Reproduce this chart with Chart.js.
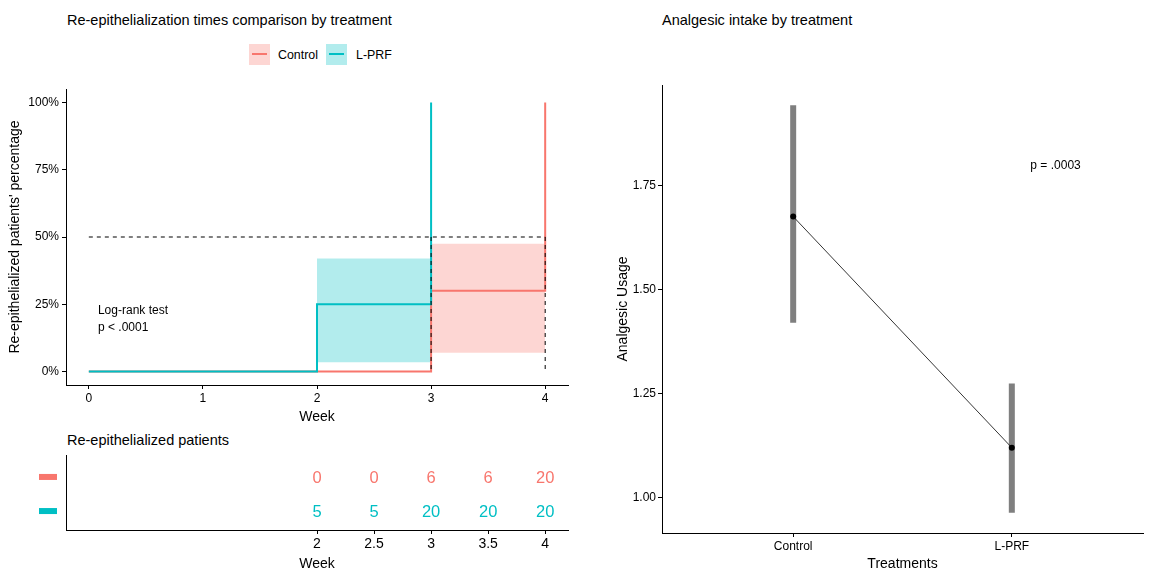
<!DOCTYPE html>
<html>
<head>
<meta charset="utf-8">
<script src="https://cdn.jsdelivr.net/npm/chart.js@4.4.1/dist/chart.umd.min.js"></script>
<style>
  html, body { margin: 0; padding: 0; background: #fff; }
  body { width: 1152px; height: 575px; position: relative; overflow: hidden; font-family: "Liberation Sans", Arial, sans-serif; color: #000; }
  canvas { position: absolute; }
  .txt { position: absolute; white-space: nowrap; line-height: 1; }
  .key { position: absolute; width: 21px; height: 21px; }
  .key span { position: absolute; left: 3px; right: 3px; top: 9px; height: 2px; }
</style>
</head>
<body>
<div class="txt" style="left:67px; top:13px; font-size:14.5px;">Re-epithelialization times comparison by treatment</div>
<div class="key" style="left:249px; top:44px; background:#FDD6D3;"><span style="background:#F8766D;"></span></div>
<div class="txt" style="left:278px; top:49px; font-size:12.4px;">Control</div>
<div class="key" style="left:326px; top:44px; background:#B2ECED;"><span style="background:#00BFC4;"></span></div>
<div class="txt" style="left:356px; top:49px; font-size:12.4px;">L-PRF</div>
<div class="txt" style="left:67px; top:433px; font-size:14.5px;">Re-epithelialized patients</div>
<div class="txt" style="left:662px; top:13px; font-size:14.5px;">Analgesic intake by treatment</div>

<canvas id="survChart" style="left:0; top:0;" width="576" height="430"></canvas>
<canvas id="riskChart" style="left:0; top:430px;" width="576" height="145"></canvas>
<canvas id="analgesicChart" style="left:576px; top:0;" width="576" height="575"></canvas>

<script>
const RED = "#F8766D";
const TEAL = "#00BFC4";
const FONT = "'Liberation Sans', Arial, sans-serif";

// re-epithelialization curves (percent healed)
const controlWeeks = [0, 3, 4];
const controlPct = [0, 30, 100];
const lprfWeeks = [0, 2, 3];
const lprfPct = [0, 25, 100];

// confidence bands
const controlBandWeeks = [3, 4];
const controlLow = [7, 7];
const controlHigh = [47.5, 47.5];
const lprfBandWeeks = [2, 3];
const lprfLow = [3.5, 3.5];
const lprfHigh = [42, 42];

// median line
const medianPct = 50;
const medianWeeks = [3, 4];

const weekTicks = [0, 1, 2, 3, 4];
const pctTicks = [0, 25, 50, 75, 100];

// risk table
const tableWeeks = [2, 2.5, 3, 3.5, 4];
const controlCounts = [0, 0, 6, 6, 20];
const lprfCounts = [5, 5, 20, 20, 20];

// analgesic intake
const treatments = ["Control", "L-PRF"];
const analgesicMean = [1.675, 1.12];
const analgesicLow = [1.42, 0.964];
const analgesicHigh = [1.942, 1.274];
const analgesicTicks = [1.0, 1.25, 1.5, 1.75];

function toPoints(xs, ys) {
  return xs.map((x, i) => ({ x, y: ys[i] }));
}

function fixedTicks(values) {
  return scale => { scale.ticks = values.map(value => ({ value })); };
}

function axisOptions(extra) {
  return Object.assign({
    grid: { display: true, drawOnChartArea: false, drawTicks: true, tickLength: 4, color: "#000", lineWidth: 1 },
    border: { display: true, color: "#000", width: 1 },
    ticks: { color: "#000", font: { family: FONT, size: 12 }, padding: 2, maxRotation: 0, autoSkip: false }
  }, extra);
}

const baseOptions = {
  responsive: false,
  animation: false,
  events: [],
  plugins: { legend: { display: false }, tooltip: { enabled: false }, title: { display: false } }
};

// --- top-left: step curves ---
const dashed = { borderColor: "#000", borderWidth: 1, borderDash: [4, 4], pointRadius: 0, fill: false, order: 0 };
const survDatasets = [
  Object.assign({ data: toPoints([0, medianWeeks[medianWeeks.length - 1]], [medianPct, medianPct]) }, dashed),
  ...medianWeeks.map(w => Object.assign({ data: toPoints([w, w], [medianPct, 0]) }, dashed)),
  { data: toPoints(lprfWeeks, lprfPct), borderColor: TEAL, borderWidth: 2, stepped: "before", pointRadius: 0, fill: false, order: 1 },
  { data: toPoints(controlWeeks, controlPct), borderColor: RED, borderWidth: 2, stepped: "before", pointRadius: 0, fill: false, order: 2 },
  { data: toPoints(lprfBandWeeks, lprfHigh), borderWidth: 0, pointRadius: 0, backgroundColor: "rgba(0,191,196,0.3)", fill: "+1", order: 3 },
  { data: toPoints(lprfBandWeeks, lprfLow), borderWidth: 0, pointRadius: 0, fill: false, order: 3 },
  { data: toPoints(controlBandWeeks, controlHigh), borderWidth: 0, pointRadius: 0, backgroundColor: "rgba(248,118,109,0.3)", fill: "+1", order: 4 },
  { data: toPoints(controlBandWeeks, controlLow), borderWidth: 0, pointRadius: 0, fill: false, order: 4 }
];

const logRankLabel = {
  id: "logRankLabel",
  afterDatasetsDraw(chart) {
    const { ctx, scales } = chart;
    ctx.save();
    ctx.fillStyle = "#000";
    ctx.font = "12px " + FONT;
    ctx.textBaseline = "middle";
    const x = scales.x.getPixelForValue(0.08);
    ctx.fillText("Log-rank test", x, scales.y.getPixelForValue(22.8));
    ctx.fillText("p < .0001", x, scales.y.getPixelForValue(16.3));
    ctx.restore();
  }
};

new Chart(document.getElementById("survChart"), {
  type: "line",
  data: { datasets: survDatasets },
  options: Object.assign({}, baseOptions, {
    layout: { padding: { left: 0, right: 8, top: 89, bottom: 0 } },
    scales: {
      x: axisOptions({
        type: "linear", min: -0.2, max: 4.2,
        afterBuildTicks: fixedTicks(weekTicks),
        afterFit: s => { s.height = 45; },
        title: { display: true, text: "Week", color: "#000", font: { family: FONT, size: 14 }, padding: { top: 0, bottom: 4 } }
      }),
      y: axisOptions({
        type: "linear", min: -5, max: 105,
        afterBuildTicks: fixedTicks(pctTicks),
        afterFit: s => { s.width = 66; },
        ticks: { color: "#000", font: { family: FONT, size: 12 }, padding: 3, callback: v => v + "%" },
        title: { display: true, text: "Re-epithelialized patients' percentage", color: "#000", font: { family: FONT, size: 14 }, padding: { top: 7, bottom: 0 } }
      })
    }
  }),
  plugins: [logRankLabel]
});

// --- bottom-left: risk table ---
const riskRows = [
  { pos: 2, color: RED, counts: controlCounts },
  { pos: 1, color: TEAL, counts: lprfCounts }
];

const riskText = {
  id: "riskText",
  afterDatasetsDraw(chart) {
    const { ctx, scales } = chart;
    ctx.save();
    ctx.font = "16.5px " + FONT;
    ctx.textAlign = "center";
    ctx.textBaseline = "middle";
    riskRows.forEach(row => {
      const y = scales.y.getPixelForValue(row.pos) + 1.5;
      ctx.fillStyle = row.color;
      ctx.fillRect(39, y - 3, 18, 6);
      tableWeeks.forEach((w, i) => {
        ctx.fillText(String(row.counts[i]), scales.x.getPixelForValue(w), y + 1);
      });
    });
    ctx.restore();
  }
};

new Chart(document.getElementById("riskChart"), {
  type: "scatter",
  data: { datasets: [{ data: [] }] },
  options: Object.assign({}, baseOptions, {
    layout: { padding: { left: 0, right: 8, top: 25, bottom: 0 } },
    scales: {
      x: axisOptions({
        type: "linear", min: -0.2, max: 4.2,
        afterBuildTicks: fixedTicks(tableWeeks),
        afterFit: s => { s.height = 45; },
        ticks: { color: "#000", font: { family: FONT, size: 14 }, padding: 2, maxRotation: 0, autoSkip: false, callback: v => String(v) },
        title: { display: true, text: "Week", color: "#000", font: { family: FONT, size: 14 }, padding: { top: 0, bottom: 2 } }
      }),
      y: axisOptions({
        type: "linear", min: 0.4, max: 2.6,
        afterFit: s => { s.width = 66; },
        grid: { display: false },
        ticks: { display: false }
      })
    }
  }),
  plugins: [riskText]
});

// --- right: analgesic intake ---
const spanAll = Math.max(...analgesicHigh) - Math.min(...analgesicLow);
const analgesicDatasets = [
  { data: toPoints([1, 2], analgesicMean), borderColor: "#000", borderWidth: 0.8, pointRadius: 3, pointBackgroundColor: "#000", pointBorderWidth: 0, fill: false, order: 0 },
  ...treatments.map((t, i) => ({
    data: toPoints([i + 1, i + 1], [analgesicLow[i], analgesicHigh[i]]),
    borderColor: "#7F7F7F", borderWidth: 6, borderCapStyle: "butt", pointRadius: 0, fill: false, order: 1
  }))
];

const pLabel = {
  id: "pLabel",
  afterDatasetsDraw(chart) {
    const { ctx, scales } = chart;
    ctx.save();
    ctx.fillStyle = "#000";
    ctx.font = "12px " + FONT;
    ctx.textAlign = "center";
    ctx.textBaseline = "middle";
    ctx.fillText("p = .0003", scales.x.getPixelForValue(2.2), scales.y.getPixelForValue(1.796));
    ctx.restore();
  }
};

new Chart(document.getElementById("analgesicChart"), {
  type: "line",
  data: { datasets: analgesicDatasets },
  options: Object.assign({}, baseOptions, {
    layout: { padding: { left: 0, right: 9, top: 85, bottom: 0 } },
    scales: {
      x: axisOptions({
        type: "linear", min: 0.4, max: 2.6,
        afterBuildTicks: fixedTicks([1, 2]),
        afterFit: s => { s.height = 42; },
        ticks: { color: "#000", font: { family: FONT, size: 12 }, padding: 2, maxRotation: 0, autoSkip: false, callback: v => treatments[v - 1] },
        title: { display: true, text: "Treatments", color: "#000", font: { family: FONT, size: 14 }, padding: { top: 0, bottom: 2 } }
      }),
      y: axisOptions({
        type: "linear",
        min: Math.min(...analgesicLow) - 0.05 * spanAll,
        max: Math.max(...analgesicHigh) + 0.05 * spanAll,
        afterBuildTicks: fixedTicks(analgesicTicks),
        afterFit: s => { s.width = 86; },
        ticks: { color: "#000", font: { family: FONT, size: 12 }, padding: 2, callback: v => v.toFixed(2) },
        title: { display: true, text: "Analgesic Usage", color: "#000", font: { family: FONT, size: 14 }, padding: { top: 39, bottom: 0 } }
      })
    }
  }),
  plugins: [pLabel]
});
</script>
</body>
</html>
